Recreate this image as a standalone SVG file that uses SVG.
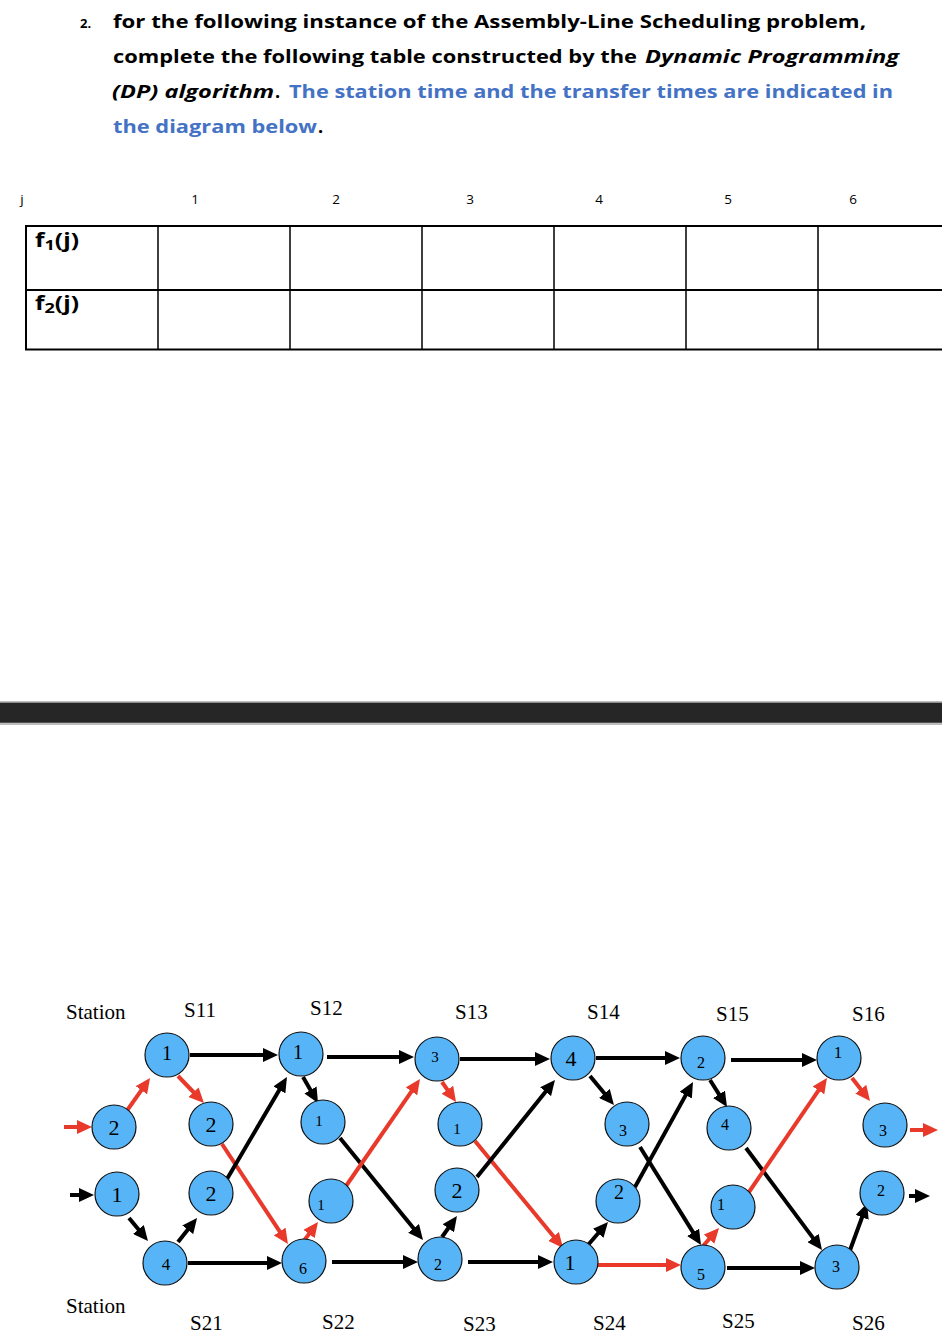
<svg xmlns="http://www.w3.org/2000/svg" width="942" height="1340" viewBox="0 0 942 1340">
<defs>
<style>
.t{font-family:"Open Sans","Liberation Sans",sans-serif;font-weight:bold;font-size:18px;fill:#000}
.b{fill:#4472C4}
.i{font-style:italic}
.h{font-family:"Open Sans","Liberation Sans",sans-serif;font-size:13.5px;fill:#000;text-anchor:middle}
.f{font-family:"Open Sans","Liberation Sans",sans-serif;font-weight:bold;font-size:19px;fill:#000}
.lbl{font-family:"Liberation Serif","Times New Roman",serif;font-size:21px;fill:#000}
.n circle{fill:#56B4F7;stroke:#111;stroke-width:1.2}
.n text{font-family:"Liberation Serif","Times New Roman",serif;fill:#000;text-anchor:middle;dominant-baseline:central}
.k{stroke:#000;stroke-width:4;fill:none;marker-end:url(#ak)}
.r{stroke:#E8392B;stroke-width:4;fill:none;marker-end:url(#ar)}
</style>
<marker id="ak" markerUnits="userSpaceOnUse" markerWidth="15" markerHeight="14" refX="8" refY="7" orient="auto"><path d="M0,0 L15,7 L0,14 z" fill="#000"/></marker>
<marker id="ar" markerUnits="userSpaceOnUse" markerWidth="15" markerHeight="14" refX="8" refY="7" orient="auto"><path d="M0,0 L15,7 L0,14 z" fill="#E8392B"/></marker>
</defs>
<rect width="942" height="1340" fill="#fff"/>

<g id="title">
<text x="80" y="28" class="t" style="font-size:13px">2.</text>
<text x="113" y="28" class="t" textLength="753" lengthAdjust="spacingAndGlyphs">for the following instance of the Assembly-Line Scheduling problem,</text>
<text x="113" y="63" class="t" textLength="524" lengthAdjust="spacingAndGlyphs">complete the following table constructed by the</text>
<text x="645" y="63" class="t i" textLength="254" lengthAdjust="spacingAndGlyphs">Dynamic Programming</text>
<text x="112" y="98" class="t i" textLength="162" lengthAdjust="spacingAndGlyphs">(DP) algorithm</text>
<text x="275" y="98" class="t">.</text>
<text x="289" y="98" class="t b" textLength="604" lengthAdjust="spacingAndGlyphs">The station time and the transfer times are indicated in</text>
<text x="113" y="133" class="t b" textLength="204" lengthAdjust="spacingAndGlyphs">the diagram below</text>
<text x="318" y="133" class="t">.</text>
</g>

<g id="table">
<text x="22" y="204" class="h">j</text>
<text x="195" y="204" class="h">1</text>
<text x="336" y="204" class="h">2</text>
<text x="470" y="204" class="h">3</text>
<text x="599" y="204" class="h">4</text>
<text x="728" y="204" class="h">5</text>
<text x="853" y="204" class="h">6</text>
<g stroke="#000" fill="none">
<path d="M26,226 H942 M26,290 H942 M26,349.5 H942 M26,225 V350.5" stroke-width="2"/>
<path d="M158,226 V350 M290,226 V350 M422,226 V350 M554,226 V350 M686,226 V350 M818,226 V350" stroke-width="1.5"/>
</g>
<text x="35" y="247" class="f" textLength="44" lengthAdjust="spacingAndGlyphs">f<tspan font-size="14" dy="3">1</tspan><tspan dy="-3">(j)</tspan></text>
<text x="35" y="310" class="f" textLength="44" lengthAdjust="spacingAndGlyphs">f<tspan font-size="14" dy="3">2</tspan><tspan dy="-3">(j)</tspan></text>
</g>

<g id="separator">
<rect x="0" y="701" width="942" height="24" fill="#BDBDBD"/>
<rect x="0" y="702.7" width="942" height="20" fill="#262626"/>
</g>

<g id="labels">
<text x="66" y="1019" class="lbl">Station</text>
<text x="184" y="1017" class="lbl">S11</text>
<text x="310" y="1015" class="lbl">S12</text>
<text x="455" y="1019" class="lbl">S13</text>
<text x="587" y="1019" class="lbl">S14</text>
<text x="716" y="1021" class="lbl">S15</text>
<text x="852" y="1021" class="lbl">S16</text>
<text x="66" y="1313" class="lbl">Station</text>
<text x="190" y="1330" class="lbl">S21</text>
<text x="322" y="1329" class="lbl">S22</text>
<text x="463" y="1331" class="lbl">S23</text>
<text x="593" y="1330" class="lbl">S24</text>
<text x="722" y="1328" class="lbl">S25</text>
<text x="852" y="1330" class="lbl">S26</text>
</g>

<g id="connectors">
<line class="r" x1="64" y1="1127" x2="85" y2="1127"/>
<line class="k" x1="70" y1="1195" x2="87" y2="1195"/>
<line class="r" x1="126" y1="1112" x2="146" y2="1083.7"/>
<line class="k" x1="129" y1="1218" x2="143.5" y2="1235.6"/>
<line class="k" x1="190" y1="1055" x2="271" y2="1055"/>
<line class="k" x1="188" y1="1263" x2="275" y2="1263"/>
<line class="r" x1="178" y1="1076" x2="199.1" y2="1098"/>
<line class="r" x1="222" y1="1144" x2="284.1" y2="1238.2"/>
<line class="k" x1="178" y1="1242" x2="192.7" y2="1223.5"/>
<line class="k" x1="227" y1="1179" x2="283.4" y2="1083"/>
<line class="k" x1="327" y1="1057" x2="407" y2="1057"/>
<line class="k" x1="332" y1="1262" x2="411" y2="1262"/>
<line class="k" x1="303" y1="1077" x2="314.5" y2="1096.9"/>
<line class="k" x1="340" y1="1138" x2="418.6" y2="1234.6"/>
<line class="r" x1="303" y1="1242" x2="313.8" y2="1227.6"/>
<line class="r" x1="346" y1="1186" x2="416" y2="1084.8"/>
<line class="k" x1="460" y1="1059" x2="543" y2="1059"/>
<line class="k" x1="468" y1="1262" x2="546" y2="1262"/>
<line class="r" x1="442" y1="1082" x2="452" y2="1096.3"/>
<line class="r" x1="475" y1="1141" x2="558.6" y2="1242.6"/>
<line class="k" x1="442" y1="1237" x2="452.9" y2="1221.7"/>
<line class="k" x1="477" y1="1177" x2="550.6" y2="1085.5"/>
<line class="k" x1="596" y1="1058" x2="673" y2="1058"/>
<line class="r" x1="598" y1="1265" x2="674" y2="1265"/>
<line class="k" x1="590" y1="1076" x2="609.5" y2="1099.6"/>
<line class="k" x1="640" y1="1147" x2="697.3" y2="1239.1"/>
<line class="k" x1="588" y1="1245" x2="603.4" y2="1227.3"/>
<line class="k" x1="635" y1="1187" x2="689.6" y2="1088.1"/>
<line class="k" x1="731" y1="1060" x2="810" y2="1060"/>
<line class="k" x1="727" y1="1268" x2="808" y2="1268"/>
<line class="k" x1="710" y1="1080" x2="723.3" y2="1101.1"/>
<line class="k" x1="746" y1="1148" x2="817.8" y2="1244.4"/>
<line class="r" x1="703" y1="1246" x2="714.4" y2="1233.2"/>
<line class="r" x1="749" y1="1192" x2="823" y2="1083.8"/>
<line class="r" x1="852" y1="1078" x2="865.7" y2="1095.5"/>
<line class="k" x1="849" y1="1253" x2="864.8" y2="1209.8"/>
<line class="r" x1="910" y1="1130" x2="931" y2="1130"/>
<line class="k" x1="909" y1="1196" x2="923" y2="1196"/>
</g>

<g id="nodes">
<g id="entry1" class="n"><circle cx="114" cy="1127" r="22"/><text x="114" y="1127" font-size="22">2</text></g>
<g id="entry2" class="n"><circle cx="117" cy="1194" r="22"/><text x="117" y="1194" font-size="22">1</text></g>
<g id="S11" class="n"><circle cx="167" cy="1055" r="22"/><text x="167" y="1053" font-size="20">1</text></g>
<g id="t1a" class="n"><circle cx="211" cy="1124" r="22"/><text x="211" y="1124" font-size="22">2</text></g>
<g id="t1b" class="n"><circle cx="211" cy="1193" r="22"/><text x="211" y="1193" font-size="22">2</text></g>
<g id="S21" class="n"><circle cx="165" cy="1263" r="22"/><text x="166" y="1264" font-size="17">4</text></g>
<g id="S12" class="n"><circle cx="301" cy="1054" r="22"/><text x="298" y="1052" font-size="20">1</text></g>
<g id="t2a" class="n"><circle cx="323" cy="1122" r="22"/><text x="319" y="1121" font-size="15">1</text></g>
<g id="t2b" class="n"><circle cx="331" cy="1201" r="22"/><text x="321" y="1205" font-size="15">1</text></g>
<g id="S22" class="n"><circle cx="304" cy="1261" r="22"/><text x="303" y="1268" font-size="16">6</text></g>
<g id="S13" class="n"><circle cx="437" cy="1059" r="22"/><text x="435" y="1057" font-size="15">3</text></g>
<g id="t3a" class="n"><circle cx="460" cy="1124" r="22"/><text x="457" y="1129" font-size="15">1</text></g>
<g id="t3b" class="n"><circle cx="457" cy="1190" r="22"/><text x="457" y="1190" font-size="22">2</text></g>
<g id="S23" class="n"><circle cx="440" cy="1259" r="22"/><text x="438" y="1264" font-size="16">2</text></g>
<g id="S14" class="n"><circle cx="573" cy="1058" r="22"/><text x="571" y="1058" font-size="22">4</text></g>
<g id="t4a" class="n"><circle cx="627" cy="1124" r="22"/><text x="623" y="1130" font-size="16">3</text></g>
<g id="t4b" class="n"><circle cx="618" cy="1201" r="22"/><text x="619" y="1192" font-size="20">2</text></g>
<g id="S24" class="n"><circle cx="576" cy="1262" r="22"/><text x="570" y="1262" font-size="22">1</text></g>
<g id="S15" class="n"><circle cx="703" cy="1058" r="22"/><text x="701" y="1062" font-size="16">2</text></g>
<g id="t5a" class="n"><circle cx="729" cy="1128" r="22"/><text x="725" y="1124" font-size="16">4</text></g>
<g id="t5b" class="n"><circle cx="733" cy="1207" r="22"/><text x="721" y="1204" font-size="16">1</text></g>
<g id="S25" class="n"><circle cx="703" cy="1267" r="22"/><text x="701" y="1274" font-size="16">5</text></g>
<g id="S16" class="n"><circle cx="839" cy="1058" r="22"/><text x="838" y="1052" font-size="17">1</text></g>
<g id="t6a" class="n"><circle cx="885" cy="1125" r="22"/><text x="883" y="1130" font-size="16">3</text></g>
<g id="t6b" class="n"><circle cx="882" cy="1193" r="22"/><text x="881" y="1190" font-size="16">2</text></g>
<g id="S26" class="n"><circle cx="837" cy="1267" r="22"/><text x="836" y="1266" font-size="16">3</text></g>
</g>
</svg>
